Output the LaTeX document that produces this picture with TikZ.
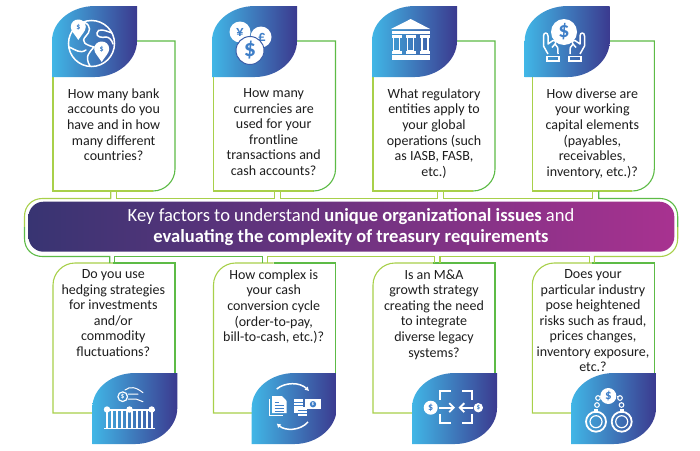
\documentclass[tikz,border=0pt]{standalone}
\usepackage{fontspec}
\setmainfont{Carlito}
\usetikzlibrary{arrows.meta}
\definecolor{lime}{HTML}{A8D04A}
\definecolor{grn}{HTML}{5DBB46}
\definecolor{leafL}{HTML}{41B6E6}
\definecolor{leafR}{HTML}{3B3A8F}
\definecolor{barL}{HTML}{383472}
\definecolor{barR}{HTML}{A83290}
\definecolor{ink}{HTML}{1E1E1E}
\definecolor{coin}{HTML}{3F7FC8}
\tikzset{
  limeline/.style={draw=lime,line width=1.1pt},
  greenline/.style={draw=grn,line width=1.1pt},
  leaf/.style={left color=leafL,right color=leafR,draw=none},
  qtext/.style={anchor=north,align=center,text=ink,inner sep=0pt,font=\fontsize{14}{15.55}\selectfont},
  icon/.style={draw=white,line width=1.5pt,fill=none},
  iconthin/.style={draw=white,line width=1.2pt,fill=none},
  sym/.style={text=coin,inner sep=0pt,font=\bfseries\fontsize{#1}{#1}\selectfont},
  sym/.default=9
}
% leaf shape, local origin at its top left corner
\newcommand{\leafshape}{\path[leaf] (0,71) -- (0,35) .. controls (0,15) and (20,0) .. (43,0) -- (85,0) -- (85,35) .. controls (85,55) and (65,71) .. (43,71) -- cycle;}
\newcommand{\topcard}[2]{%
 \begin{scope}[shift={(#1,0)}]
  \draw[limeline] (0,70) -- (0,191) -- (100,191);
  \draw[greenline] (60,41) -- (122,41) -- (122,169) .. controls (122,181) and (112,191) .. (100,191);
 \end{scope}
 \begin{scope}[shift={(#2,6)}]\leafshape\end{scope}}
\newcommand{\botcard}[2]{%
 \begin{scope}[shift={(#1,0)}]
  \draw[limeline] (60,413) -- (0,413) -- (0,285) .. controls (0,273) and (10,263) .. (22,263) -- (60,263);
  \draw[greenline] (60,263) -- (122,263) -- (122,380);
 \end{scope}
 \begin{scope}[shift={(#2,373)}]\leafshape\end{scope}}
\newcommand{\hand}{%
  \draw[icon,line join=round] (-16,54) -- (-20.5,46) -- (-20.5,36) .. controls (-20.5,32) and (-16,32) .. (-16,36) -- (-16,44) -- (-11,40.5) .. controls (-9,39.5) and (-7,42) .. (-9,44) -- (-12,47.5)
     (-9,44) .. controls (-6,46) and (-6,48) .. (-6,54);
  \draw[icon] (-17,56.5) rectangle (-5,61);}
\begin{document}
\begin{tikzpicture}[x=1pt,y=-1pt]
\useasboundingbox (0,0) rectangle (700,450);
\fill[white] (0,0) rectangle (700,450);

% cards
\topcard{53}{52}
\topcard{213.5}{212}
\topcard{373}{372}
\topcard{532.3}{524.7}
\botcard{53}{92.3}
\botcard{213.5}{251.7}
\botcard{373}{412}
\botcard{532.3}{571}

% frame round the title
\draw[limeline,line join=round] (110.7,191) -- (110.7,198.5) -- (42.5,198.5) .. controls (32,198.5) and (24.5,206) .. (24.5,216.5) -- (24.5,227);
\draw[greenline] (24.5,227) -- (24.5,238.5) .. controls (24.5,249) and (32,256.5) .. (42.5,256.5) -- (109.7,256.5) -- (109.7,263);
\draw[limeline] (116.3,191) -- (116.3,198.5) -- (274.3,198.5) -- (274.3,191);
\draw[limeline] (280.3,191) -- (280.3,198.5) -- (437.7,198.5) -- (437.7,191);
\draw[limeline] (443.7,191) -- (443.7,198.5) -- (592.3,198.5) -- (592.3,191);
\draw[greenline] (598.7,191) -- (598.7,198.5) -- (660,198.5) .. controls (670,198.5) and (677.7,206) .. (677.7,216.5) -- (677.7,227);
\draw[limeline] (677.7,227) -- (677.7,238.5) .. controls (677.7,249) and (670,256.5) .. (660,256.5) -- (594.3,256.5) -- (594.3,263);
\draw[greenline] (114.3,263) -- (114.3,256.5) -- (262.3,256.5) -- (262.3,263);
\draw[limeline] (267.3,263) -- (267.3,256.5) -- (434.7,256.5) -- (434.7,263);
\draw[limeline] (440,263) -- (440,256.5) -- (589.3,256.5) -- (589.3,263);

% title bar
\path[left color=barL,right color=barR,rounded corners=15pt] (28.5,201.7) rectangle (674.3,251.7);
\node[text=white,inner sep=0pt,align=center,font=\fontsize{18.55}{21.5}\selectfont] (title) at (351,227)
  {Key factors to understand \textbf{unique organizational issues} and\\ \textbf{evaluating the complexity of treasury requirements}};

% questions
\node[qtext] (q1) at (113.7,88.5) {How many bank\\accounts do you\\have and in how\\many different\\countries?};
\node[qtext] (q2) at (273.7,88.5) {How many\\currencies are\\used for your\\frontline\\transactions and\\cash accounts?};
\node[qtext] (q3) at (434,88.5) {What regulatory\\entities apply to\\your global\\operations (such\\as IASB, FASB,\\etc.)};
\node[qtext] (q4) at (592.3,88.5) {How diverse are\\your working\\capital elements\\(payables,\\receivables,\\inventory, etc.)?};
\node[qtext] (q5) at (113.3,269.5) {Do you use\\hedging strategies\\for investments\\and/or\\commodity\\fluctuations?};
\node[qtext] (q6) at (273.7,269.5) {How complex is\\your cash\\conversion cycle\\(order-to-pay,\\bill-to-cash, etc.)?};
\node[qtext] (q7) at (434,269.5) {Is an M\&A\\growth strategy\\creating the need\\to integrate\\diverse legacy\\systems?};
\node[qtext] (q8) at (593,269.5) {Does your\\particular industry\\pose heightened\\risks such as fraud,\\prices changes,\\inventory exposure,\\etc.?};

% icon 1: globe with pins
\draw[icon] (91.5,43.5) circle [radius=23];
\draw[icon,line cap=round] (84,22) .. controls (92,26) and (90,32) .. (86,36) .. controls (80,42) and (86,45) .. (94,47) .. controls (90,52) and (84,56) .. (90,66);
\draw[icon,line cap=round] (112,33) .. controls (104,30) and (98,28) .. (97,33) .. controls (96,37) and (102,38) .. (106,37) .. controls (109,37) and (112,40) .. (113,44);
\draw[icon,line cap=round] (69,47) .. controls (76,50) and (80,54) .. (86,50);
\foreach \px/\py in {78.3/27,101.7/49}{
  \fill[white] (\px,\py+13) .. controls (\px-3,\py+8) and (\px-7.5,\py+4) .. (\px-7.5,\py) .. controls (\px-7.5,\py-10) and (\px+7.5,\py-10) .. (\px+7.5,\py) .. controls (\px+7.5,\py+4) and (\px+3,\py+8) .. (\px,\py+13) -- cycle;
  \node[sym=8] at (\px,\py) {\$};
}

% icon 2: coins
\fill[white] (240,32) circle [radius=10.5];
\node[sym=15] at (240,32) {¥};
\fill[white] (261,37) circle [radius=10.5];
\node[sym=15] at (262,37) {£};
\draw[fill=white,draw=leafR!70!leafL,line width=1pt] (250,50.5) circle [radius=14];
\node[sym=24] at (250,50.5) {\$};

% icon 3: bank
\fill[white] (391,29) -- (410.7,19) -- (430,29) -- cycle;
\fill[white] (392,30.5) rectangle (430,33.5);
\foreach \cx in {396.7,410.7,425}{
  \fill[white] (\cx-5,35) rectangle (\cx+5,37.5);
  \draw[iconthin] (\cx-3,37.5) rectangle (\cx+3,51);
  \fill[white] (\cx-5,51) rectangle (\cx+5,54);
}
\fill[white] (392,55) rectangle (430,60);

% icon 4: hands and coin
\fill[white] (564,32) circle [radius=13];
\node[sym=22] at (564,32) {\$};
\begin{scope}[shift={(564,0)}]\hand\end{scope}
\begin{scope}[shift={(564,0)},xscale=-1]\hand\end{scope}

% icon 5: railing, hand and coin
\foreach \bx in {107,112,117,122,127,132,137,142,147,152}{\draw[white,line width=1.4pt] (\bx,410) -- (\bx,429);}
\draw[white,line width=1.5pt] (105,410) -- (155,410);
\draw[white,line width=1.8pt] (104,428.5) -- (155,428.5);
\foreach \bx in {107,129.5,151.7}{\fill[white] (\bx,409.5) circle [radius=3.2];}
\draw[iconthin] (122.7,396.7) circle [radius=4.8];
\node[text=white,inner sep=0pt,font=\bfseries\fontsize{7}{7}\selectfont] at (122.7,396.7) {\$};
\draw[white,line width=1pt,line cap=round] (125,390) .. controls (130,386) and (136,387) .. (143,392.7) (128,394) -- (138,394) (128,399) -- (136,399) -- (143,401.7);

% icon 6: documents, coins, cycle
\draw[icon,-{Latex[length=4pt,width=5pt]}] (276.7,389) .. controls (285,382) and (300,382) .. (309,391);
\draw[icon,-{Latex[length=4pt,width=5pt]}] (308,422) .. controls (300,431) and (285,431) .. (276.7,423.5);
\fill[white] (272,396) -- (282,396) -- (286.7,401) -- (286.7,413) -- (272,413) -- cycle;
\draw[iconthin] (269.8,399) -- (269.8,415.5) -- (283,415.5);
\draw[coin,line width=0.8pt] (274.5,402) -- (279,402) (274.5,405) -- (284,405) (274.5,408) -- (284,408) (274.5,411) -- (284,411);
\fill[white] (294,399) rectangle (303,413);
\fill[white] (298,407) rectangle (307,416);
\draw[coin,line width=0.5pt] (294,402) -- (303,402) (294,405) -- (303,405) (298,410) -- (307,410) (298,413) -- (307,413);
\fill[white] (305,399) rectangle (320.7,409.3);
\fill[coin] (313,404.2) circle [radius=3.2];
\node[text=white,inner sep=0pt,font=\bfseries\fontsize{5}{5}\selectfont] at (313,404.2) {\$};

% icon 7: merging systems
\draw[icon,line width=1.8pt] (440,400) -- (440,390.7) -- (450.7,390.7) (462,390.7) -- (472.3,390.7) -- (472.3,400)
  (472.3,414) -- (472.3,423.3) -- (462,423.3) (450.7,423.3) -- (440,423.3) -- (440,414);
\draw[icon,line width=1.8pt,-{Straight Barb[length=4.5pt,width=9pt]}] (439,407.7) -- (455,407.7);
\draw[icon,line width=1.8pt,-{Straight Barb[length=4.5pt,width=9pt]}] (473,407.7) -- (458.5,407.7);
\fill[white] (430.7,407.7) circle [radius=7];
\node[sym=10] at (430.7,407.7) {\$};
\fill[white] (478.3,407.7) circle [radius=4.7];
\node[sym=7] at (478.3,407.7) {\$};

% icon 8: handcuffs and coin
\foreach \rx in {596,621.7}{
  \draw[icon,line width=1.8pt] (\rx,421.7) circle [radius=10];
  \draw[iconthin] (\rx,421.7) circle [radius=6];
  \fill[white] (\rx-2,409) rectangle (\rx+2,413);
}
\foreach \cx/\cy in {598/398,597/405,620/398,621.5/405}{\draw[white,line width=1.1pt] (\cx,\cy) circle [radius=2.3];}
\draw[white,line width=1pt] (601,396) -- (600,396) (617,396) -- (618,396);
\fill[white] (608.3,396) circle [radius=8];
\node[sym=13] at (608.3,396) {\$};
\end{tikzpicture}
\end{document}
